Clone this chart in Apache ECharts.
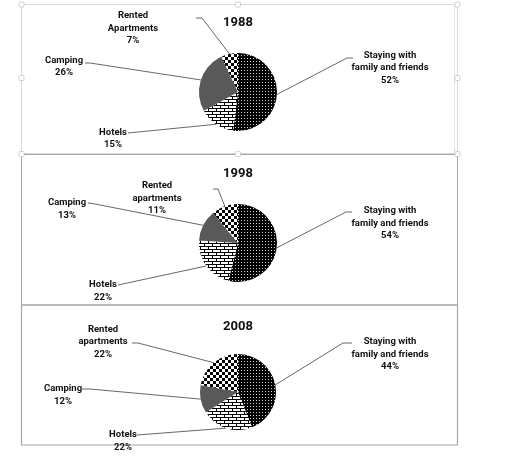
<!DOCTYPE html>
<html>
<head>
    <meta charset="utf-8">
    <title>Holiday accommodation 1988 / 1998 / 2008</title>
    <script src="https://cdn.jsdelivr.net/npm/echarts@6/dist/echarts.min.js"></script>
    <style>
        html, body { margin: 0; padding: 0; background: #fff; }
    </style>
</head>
<body>
<div id="chart" style="width: 512px; height: 457px;"></div>

<script>
    // data
    var years = ['1988', '1998', '2008'];
    var names1988 = ['Staying with\nfamily and friends', 'Hotels', 'Camping', 'Rented\nApartments'];
    var names1998 = ['Staying with\nfamily and friends', 'Hotels', 'Camping', 'Rented\napartments'];
    var names2008 = ['Staying with\nfamily and friends', 'Hotels', 'Camping', 'Rented\napartments'];
    var values1988 = [52, 15, 26, 7];
    var values1998 = [54, 22, 13, 11];
    var values2008 = [44, 22, 12, 22];

    // layout: pie centres / radius, title spots
    var pieCenters = [[238, 92], [238, 243], [238, 392]];
    var pieRadius = [39, 39, 38];
    var titleY = [23, 174, 327];

    // label centre [x, y] and leader line bend / end points (null = straight)
    var labelSpots = [
        [
            {x: 390, y: 68, bend: [347, 58], end: [353, 58]},
            {x: 113, y: 138.5, bend: null, end: [128, 133]},
            {x: 64, y: 66.5, bend: [90, 63], end: [85, 63]},
            {x: 133, y: 28.5, bend: [202, 18], end: [196, 18]}
        ],
        [
            {x: 390, y: 223.5, bend: [346, 212], end: [352, 212]},
            {x: 103, y: 291, bend: null, end: [118, 285]},
            {x: 67, y: 209, bend: [95, 204], end: [88, 203]},
            {x: 157, y: 198.5, bend: [218, 189], end: [213, 189]}
        ],
        [
            {x: 390, y: 354.5, bend: [343, 343], end: [352, 343]},
            {x: 123, y: 441, bend: null, end: [137, 435]},
            {x: 63, y: 395, bend: [90, 389], end: [82, 389]},
            {x: 103, y: 342, bend: [138, 343], end: [132, 343]}
        ]
    ];

    // fill patterns like the excel ones
    function makePattern(w, h, draw) {
        var c = document.createElement('canvas');
        c.width = w;
        c.height = h;
        draw(c.getContext('2d'));
        return {image: c, repeat: 'repeat'};
    }
    var dotFill = makePattern(3, 3, function (ctx) {
        ctx.fillStyle = '#000';
        ctx.fillRect(0, 0, 3, 3);
        ctx.fillStyle = '#d0d0d0';
        ctx.fillRect(1, 1, 1, 1);
    });
    var brickFill = makePattern(8, 6, function (ctx) {
        ctx.fillStyle = '#fff';
        ctx.fillRect(0, 0, 8, 6);
        ctx.fillStyle = '#000';
        ctx.fillRect(0, 0, 8, 1);
        ctx.fillRect(0, 3, 8, 1);
        ctx.fillRect(0, 0, 1, 3);
        ctx.fillRect(4, 3, 1, 3);
    });
    var checkFill = makePattern(6, 6, function (ctx) {
        ctx.fillStyle = '#fff';
        ctx.fillRect(0, 0, 6, 6);
        ctx.fillStyle = '#000';
        ctx.fillRect(0, 0, 3, 3);
        ctx.fillRect(3, 3, 3, 3);
    });
    var fills = [dotFill, brickFill, '#595959', checkFill];

    var allNames = [names1988, names1998, names2008];
    var allValues = [values1988, values1998, values2008];

    var chart = echarts.init(document.getElementById('chart'));

    var series = [];
    for (var s = 0; s < years.length; s++) {
        var data = [];
        for (var i = 0; i < allValues[s].length; i++) {
            data.push({
                name: allNames[s][i],
                value: allValues[s][i],
                itemStyle: {color: fills[i]}
            });
        }
        series.push({
            type: 'pie',
            name: years[s],
            center: pieCenters[s],
            radius: pieRadius[s],
            startAngle: 90,
            clockwise: true,
            animation: false,
            silent: true,
            itemStyle: {borderWidth: 0},
            label: {
                show: true,
                position: 'outside',
                formatter: '{b}\n{c}%',
                color: '#111',
                fontFamily: 'Roboto',
                fontWeight: 'bold',
                fontSize: 9.5,
                lineHeight: 12.5,
                align: 'center'
            },
            labelLine: {
                show: true,
                lineStyle: {color: '#404040', width: 0.8}
            },
            labelLayout: function (params) {
                var spot = labelSpots[params.seriesIndex][params.dataIndex];
                var pts = [params.labelLinePoints[0]];
                if (spot.bend) pts.push(spot.bend);
                pts.push(spot.end);
                return {
                    x: spot.x,
                    y: spot.y,
                    align: 'center',
                    verticalAlign: 'middle',
                    labelLinePoints: pts
                };
            },
            data: data
        });
    }

    // panel frames, handles and titles
    var graphics = [
        {type: 'rect', shape: {x: 21.5, y: 4.5, width: 436, height: 149},
            style: {fill: 'none', stroke: '#d9d9d9', lineWidth: 1}, silent: true},
        {type: 'line', shape: {x1: 454.5, y1: 4.5, x2: 454.5, y2: 153.5},
            style: {stroke: '#e3e3e3', lineWidth: 1}, silent: true},
        {type: 'rect', shape: {x: 21.5, y: 154.5, width: 436, height: 150.5},
            style: {fill: 'none', stroke: '#a6a6a6', lineWidth: 1}, silent: true},
        {type: 'rect', shape: {x: 21.5, y: 305, width: 436, height: 140},
            style: {fill: 'none', stroke: '#a6a6a6', lineWidth: 1.2}, silent: true}
    ];
    var handles = [[21.5, 4.5], [238, 4.5], [457.5, 4.5], [21.5, 78], [457.5, 78],
        [21.5, 154], [238, 154], [457.5, 154]];
    handles.forEach(function (h) {
        graphics.push({type: 'rect', shape: {x: h[0] - 2.5, y: h[1] - 2.5, width: 5, height: 5, r: 1},
            style: {fill: '#fff', stroke: '#c8c8c8', lineWidth: 0.8}, silent: true});
    });
    for (var t = 0; t < years.length; t++) {
        graphics.push({
            type: 'text',
            x: 238,
            y: titleY[t],
            style: {
                text: years[t],
                fill: '#111',
                font: 'bold 13px Roboto',
                textAlign: 'center',
                textVerticalAlign: 'middle'
            },
            silent: true
        });
    }

    chart.setOption({
        backgroundColor: '#fff',
        animation: false,
        graphic: graphics,
        series: series
    });
</script>
</body>
</html>
